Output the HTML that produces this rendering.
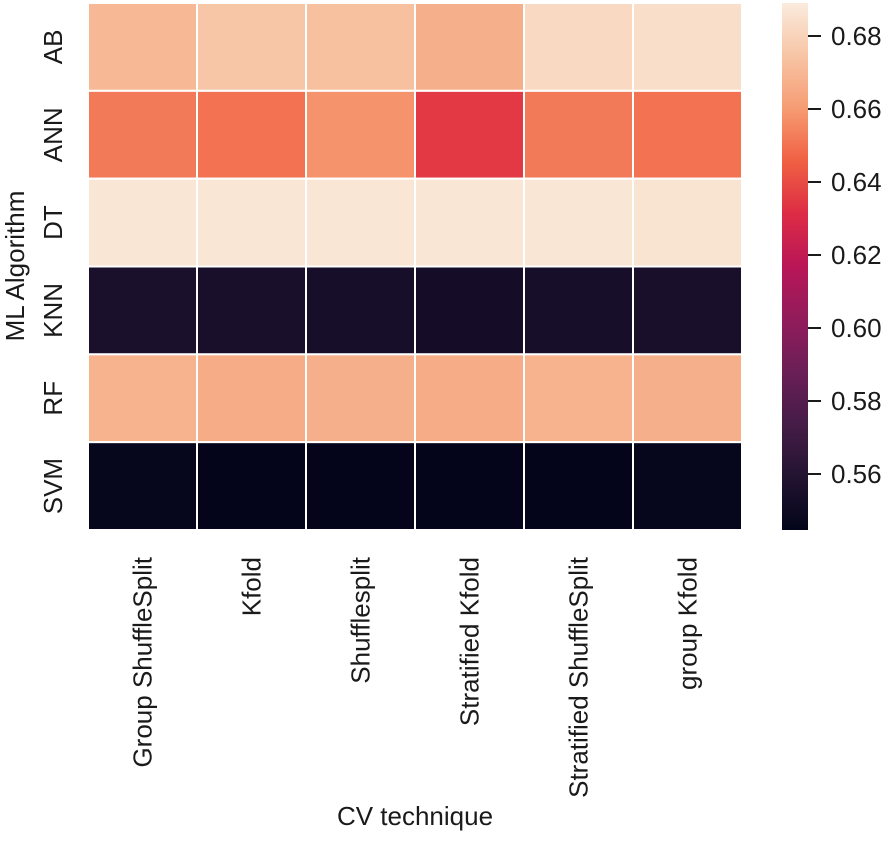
<!DOCTYPE html>
<html><head><meta charset="utf-8"><style>
html,body{margin:0;padding:0;background:#fff;}
svg text{font-family:"Liberation Sans",Arial,sans-serif;fill:#1a1a1a;}
</style></head><body>
<svg id="chart" width="885" height="836" viewBox="0 0 885 836" xmlns="http://www.w3.org/2000/svg">
<defs><linearGradient id="cbg" x1="0" y1="1" x2="0" y2="0"></linearGradient></defs>
<g id="cells"></g>
<g id="ylab"></g>
<g id="xlab"></g>
<text x="415" y="825" font-size="26" text-anchor="middle">CV technique</text>
<text transform="translate(24,266) rotate(-90)" font-size="26" text-anchor="middle">ML Algorithm</text>
<rect x="782" y="3" width="26" height="527" fill="url(#cbg)"/>
<g id="cbticks"></g>
</svg>
<script>
const rows = ["AB","ANN","DT","KNN","RF","SVM"];
const cols = ["Group ShuffleSplit","Kfold","Shufflesplit","Stratified Kfold","Stratified ShuffleSplit","group Kfold"];
const vAB  = [0.670,0.675,0.673,0.667,0.682,0.684];
const vANN = [0.652,0.650,0.658,0.635,0.652,0.650];
const vDT  = [0.687,0.687,0.687,0.687,0.687,0.686];
const vKNN = [0.556,0.555,0.554,0.553,0.554,0.555];
const vRF  = [0.668,0.666,0.667,0.666,0.668,0.667];
const vSVM = [0.546,0.545,0.545,0.545,0.545,0.546];
const cbTicks = [0.56,0.58,0.60,0.62,0.64,0.66,0.68];
const vmin = 0.5447, vmax = 0.689;

const values = [vAB,vANN,vDT,vKNN,vRF,vSVM];
const NS="http://www.w3.org/2000/svg";
const X0=88, X1=742, Y0=3, Y1=530;
const cw=(X1-X0)/cols.length, ch=(Y1-Y0)/rows.length;
const stops=[[0,"#03051a"],[0.1,"#221331"],[0.2,"#451c47"],[0.3,"#6a1f56"],[0.4,"#921c5b"],[0.5,"#b91657"],[0.6,"#dd2c45"],[0.7,"#f06043"],[0.8,"#f69c73"],[0.9,"#f7c5a5"],[1,"#faebdd"]];
function hex(h){return [1,3,5].map(i=>parseInt(h.substr(i,2),16));}
function cmap(v){let t=Math.max(0,Math.min(1,(v-vmin)/(vmax-vmin)));
 for(let i=1;i<stops.length;i++){if(t<=stops[i][0]){const a=stops[i-1],b=stops[i];const f=(t-a[0])/(b[0]-a[0]);const ca=hex(a[1]),cb=hex(b[1]);return "rgb("+ca.map((c,k)=>Math.round(c+(cb[k]-c)*f)).join(",")+")";}}return stops[stops.length-1][1];}
function yScale(v){return 36+(0.68-v)/0.02*73;}
const cells=document.getElementById('cells');
rows.forEach((r,i)=>{cols.forEach((c,j)=>{
 const el=document.createElementNS(NS,'rect');
 
 
 el.setAttribute('x',X0+j*cw);el.setAttribute('y',Y0+i*ch);
 el.setAttribute('width',cw);el.setAttribute('height',ch);
 el.setAttribute('fill',cmap(values[i][j]));el.setAttribute('stroke','#fff');el.setAttribute('stroke-width','2');
 cells.appendChild(el);});});
const yl=document.getElementById('ylab');
rows.forEach((r,i)=>{const t=document.createElementNS(NS,'text');
 
 
 const cy=Y0+(i+0.5)*ch;t.setAttribute('transform','translate(62,'+cy+') rotate(-90)');
 t.setAttribute('text-anchor','middle');t.setAttribute('font-size','26');t.textContent=r;yl.appendChild(t);});
const xl=document.getElementById('xlab');
cols.forEach((c,j)=>{const t=document.createElementNS(NS,'text');
 
 
 const cx=X0+(j+0.5)*cw+9;t.setAttribute('transform','translate('+cx+',557) rotate(-90)');
 t.setAttribute('text-anchor','end');t.setAttribute('font-size','26');t.textContent=c;xl.appendChild(t);});
const g=document.getElementById('cbg');
for(let k=0;k<=20;k++){const s=document.createElementNS(NS,'stop');const v=vmin+(vmax-vmin)*k/20;
 s.setAttribute('offset',(k*5)+'%');s.setAttribute('stop-color',cmap(v));g.appendChild(s);}
const cbt=document.getElementById('cbticks');
cbTicks.forEach(v=>{const y=yScale(v);
 const l=document.createElementNS(NS,'line');
 
 
 l.setAttribute('x1',808);l.setAttribute('x2',821);l.setAttribute('y1',y);l.setAttribute('y2',y);l.setAttribute('stroke','#1a1a1a');l.setAttribute('stroke-width','2');cbt.appendChild(l);
 const t=document.createElementNS(NS,'text');
 
 
 t.setAttribute('x',831);t.setAttribute('y',y+9);t.setAttribute('font-size','26');t.textContent=v.toFixed(2);cbt.appendChild(t);});
</script>
</body></html>
